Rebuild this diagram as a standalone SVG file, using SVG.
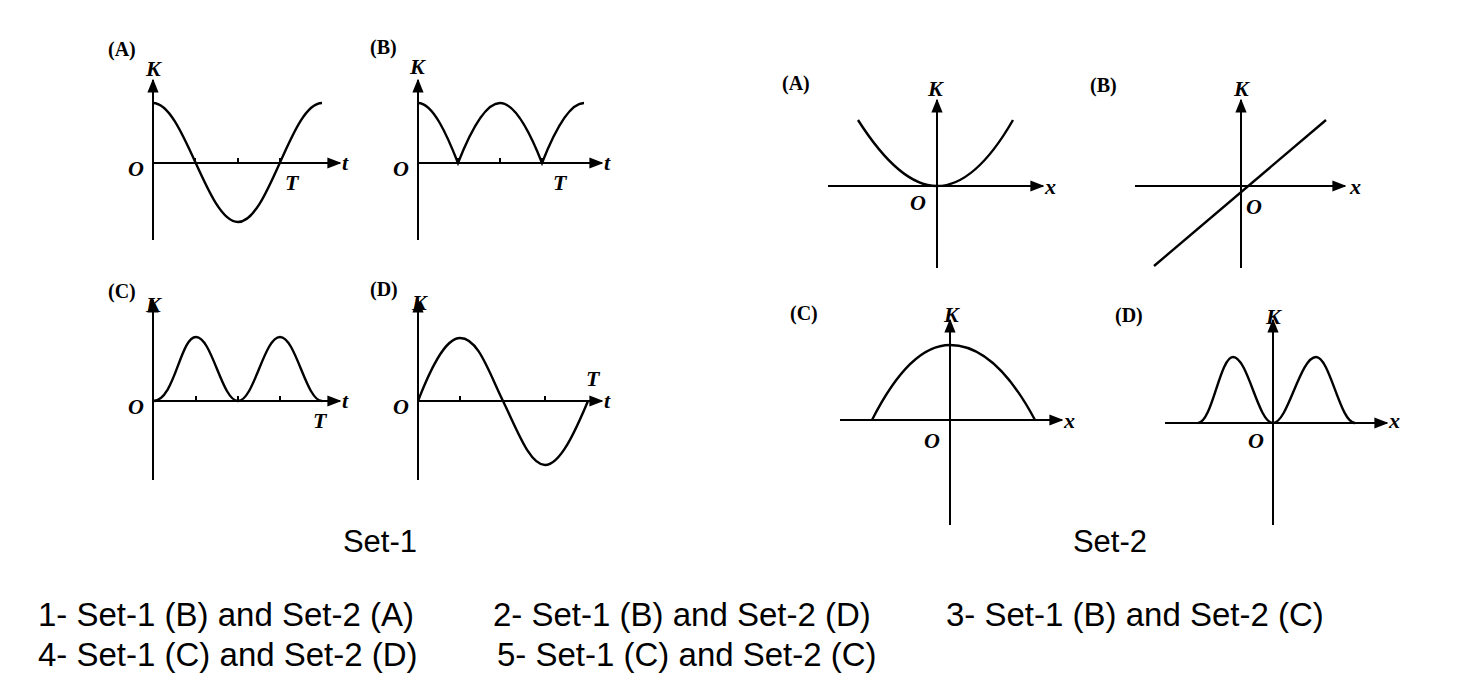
<svg xmlns="http://www.w3.org/2000/svg" width="1464" height="682" viewBox="0 0 1464 682">
<style>
.ax{stroke:#000;stroke-width:2;fill:none;marker-end:url(#ar)}
.cv{stroke:#000;stroke-width:2.4;fill:none}
.tk{stroke:#000;stroke-width:2}
.lb{font-family:"Liberation Serif",serif;font-weight:bold;font-style:italic;font-size:22px}
.pl{font-family:"Liberation Serif",serif;font-weight:bold;font-size:20px}
.tx{font-family:"Liberation Sans",Arial,sans-serif;font-size:33px}
.cp{font-family:"Liberation Sans",Arial,sans-serif;font-size:31px}
</style>
<defs><marker id="ar" viewBox="0 0 10 10" refX="9" refY="5" markerWidth="7" markerHeight="7" orient="auto"><path d="M0,1 L10,5 L0,9 Z" fill="#000"/></marker></defs>
<rect width="1464" height="682" fill="#fff"/>
<g id="s1a">
<path class="ax" d="M153,240 V80"/><path class="ax" d="M153,163 H340"/>
<path class="tk" d="M195,158V163M238,158V163M280,158V163"/>
<path class="cv" d="M153,103 C184,103 207,222 238,222 C269,222 291,103 322,103"/>
<text class="pl" x="108" y="56">(A)</text><text class="lb" x="146" y="76">K</text><text class="lb" x="128" y="176">O</text><text class="lb" x="342" y="170">t</text><text class="lb" x="285" y="190">T</text>
</g>
<g id="s1b">
<path class="ax" d="M418,240 V80"/><path class="ax" d="M418,163 H602"/>
<path class="tk" d="M458,158V163M500,158V163M542,158V163"/>
<path class="cv" d="M418,103 C433,103 447,135 458,163 C469,135 485,103 500,103 C515,103 531,135 542,163 C553,135 569,103 584,103"/>
<text class="pl" x="370" y="54">(B)</text><text class="lb" x="410" y="74">K</text><text class="lb" x="393" y="176">O</text><text class="lb" x="604" y="170">t</text><text class="lb" x="553" y="190">T</text>
</g>
<g id="s1c">
<path class="ax" d="M153,480 V300"/><path class="ax" d="M153,401 H340"/>
<path class="tk" d="M196,396V401M238,396V401M280,396V401"/>
<path class="cv" d="M153,401 C175,401 180,337 196,337 C212,337 222,401 238,401 C254,401 264,337 280,337 C296,337 306,401 322,401"/>
<text class="pl" x="108" y="298">(C)</text><text class="lb" x="146" y="312">K</text><text class="lb" x="128" y="414">O</text><text class="lb" x="342" y="408">t</text><text class="lb" x="313" y="428">T</text>
</g>
<g id="s1d">
<path class="ax" d="M418,480 V300"/><path class="ax" d="M418,401 H602"/>
<path class="tk" d="M460,396V401M545,396V401"/>
<path class="cv" d="M418,401 C430,370 445,338 460,338 C478,338 488,370 503,401 C518,432 530,465 545,465 C560,465 575,432 588,401"/>
<text class="pl" x="370" y="296">(D)</text><text class="lb" x="412" y="310">K</text><text class="lb" x="393" y="414">O</text><text class="lb" x="604" y="408">t</text><text class="lb" x="586" y="386">T</text>
</g>
<g id="s2a">
<path class="ax" d="M937,268 V100"/><path class="ax" d="M828,186 H1043"/>
<path class="cv" d="M858,120 Q900,186 937,186 Q975,186 1013,120"/>
<text class="pl" x="782" y="90">(A)</text><text class="lb" x="928" y="96">K</text><text class="lb" x="910" y="210">O</text><text class="lb" x="1045" y="194">x</text>
</g>
<g id="s2b">
<path class="ax" d="M1241,268 V100"/><path class="ax" d="M1135,186 H1345"/>
<path class="cv" d="M1154,266 L1326,120"/>
<text class="pl" x="1090" y="92">(B)</text><text class="lb" x="1234" y="96">K</text><text class="lb" x="1246" y="214">O</text><text class="lb" x="1350" y="194">x</text>
</g>
<g id="s2c">
<path class="ax" d="M950,525 V320"/><path class="ax" d="M840,420 H1062"/>
<path class="cv" d="M872,420 Q910,345 950,345 Q995,345 1035,420"/>
<text class="pl" x="790" y="320">(C)</text><text class="lb" x="944" y="322">K</text><text class="lb" x="924" y="448">O</text><text class="lb" x="1064" y="428">x</text>
</g>
<g id="s2d">
<path class="ax" d="M1273,525 V320"/><path class="ax" d="M1165,423 H1387"/>
<path class="cv" d="M1198,423 C1212,423 1220,357 1233,357 C1248,357 1258,423 1273,423 C1288,423 1300,357 1316,357 C1330,357 1340,423 1355,423"/>
<text class="pl" x="1115" y="322">(D)</text><text class="lb" x="1266" y="324">K</text><text class="lb" x="1248" y="448">O</text><text class="lb" x="1389" y="428">x</text>
</g>
<text class="cp" x="380" y="552" text-anchor="middle">Set-1</text>
<text class="cp" x="1110" y="552" text-anchor="middle">Set-2</text>
<text class="tx" x="38" y="626">1- Set-1 (B) and Set-2 (A)</text>
<text class="tx" x="493" y="626">2- Set-1 (B) and Set-2 (D)</text>
<text class="tx" x="946" y="626">3- Set-1 (B) and Set-2 (C)</text>
<text class="tx" x="38" y="666">4- Set-1 (C) and Set-2 (D)</text>
<text class="tx" x="497" y="666">5- Set-1 (C) and Set-2 (C)</text>
</svg>
